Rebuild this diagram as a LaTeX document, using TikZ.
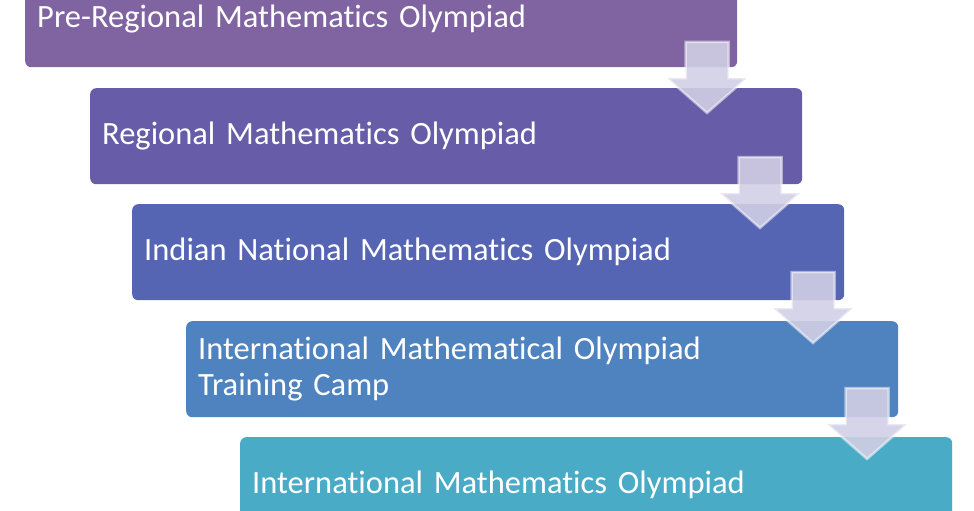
\documentclass[tikz,border=0pt]{standalone}
\usepackage{fontspec}
\setmainfont{Carlito}[Ligatures=NoCommon]
\usetikzlibrary{positioning}
\usepackage{color}

\definecolor{stageA}{HTML}{8064A2}
\definecolor{stageB}{HTML}{665CA8}
\definecolor{stageC}{HTML}{5664B4}
\definecolor{stageD}{HTML}{4F83BF}
\definecolor{stageE}{HTML}{4AABC6}
\definecolor{arrowfill}{HTML}{D2CFE5}

\begin{document}
\begin{tikzpicture}[x=1pt, y=-1pt,
  stage/.style={anchor=north west, rounded corners=6pt, text=white,
    font=\fontsize{32.5}{36}\selectfont, align=left, text width=688pt,
    inner xsep=12pt, inner ysep=0pt, minimum height=96pt},
  flowarrow/.style={fill=arrowfill, fill opacity=0.9, draw=white,
    draw opacity=0.5, line width=2.5pt}]
  \useasboundingbox (0,0) rectangle (974,511);
  % stages
  \node[stage, fill=stageA] (pre) at (25,-29) {Pre-Regional Mathematics Olympiad};
  \node[stage, fill=stageB] (rmo) at (90,88) {Regional Mathematics Olympiad};
  \node[stage, fill=stageC] (inmo) at (132,204) {Indian National Mathematics Olympiad};
  \node[stage, fill=stageD] (camp) at (186,321) {International Mathematical Olympiad\\Training Camp};
  \node[stage, fill=stageE] (imo) at (240,437) {International Mathematics Olympiad};
  % down arrows between stages
  \foreach \cx/\ty in {707/42, 760/157, 813/272, 867/388}
    \draw[flowarrow, shift={(\cx,\ty)}] (-21.5,0) -- (21.5,0) -- (21.5,36) -- (40,36)
      -- (0,71) -- (-40,36) -- (-21.5,36) -- cycle;
\end{tikzpicture}
\end{document}
